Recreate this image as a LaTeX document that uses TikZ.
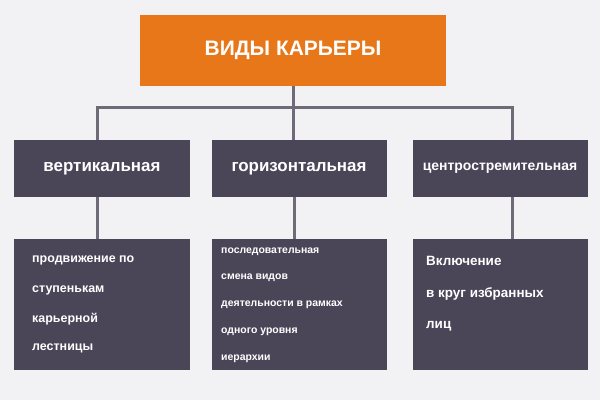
\documentclass[tikz,border=0pt]{standalone}
\usepackage{fontspec}
\setmainfont{Liberation Sans}
\definecolor{bg}{HTML}{F2F2F4}
\definecolor{dk}{HTML}{4A4658}
\definecolor{org}{HTML}{E8771A}
\definecolor{ln}{HTML}{6E6A78}
\begin{document}
\begin{tikzpicture}[x=1bp,y=-1bp,
  box/.style={fill=dk,draw=none,inner sep=0},
  conn/.style={draw=ln,line width=3bp},
  lbl/.style={text=white,font=\bfseries,anchor=west,inner sep=0}]
\fill[bg] (0,0) rectangle (600,400);
\useasboundingbox (0,0) rectangle (600,400);
\node[box,fill=org,minimum width=306bp,minimum height=71bp] (t) at (293,50.5) {};
\node[text=white,font=\bfseries\fontsize{21}{24}\selectfont] at (t) {ВИДЫ КАРЬЕРЫ};
% second row
\node[box,minimum width=175bp,minimum height=57bp] (a) at (102,168.5) {};
\node[box,minimum width=175bp,minimum height=57bp] (b) at (299,168.5) {};
\node[box,minimum width=175bp,minimum height=57bp] (c) at (500,168.5) {};
\node[text=white,font=\bfseries\fontsize{17}{20}\selectfont] at (a) {вертикальная};
\node[text=white,font=\bfseries\fontsize{17}{20}\selectfont] at (b) {горизонтальная};
\node[text=white,font=\bfseries\fontsize{14}{17}\selectfont] at (c) {центростремительная};
% third row
\node[box,minimum width=175bp,minimum height=131bp] (d) at (102,304.5) {};
\node[box,minimum width=175bp,minimum height=131bp] (e) at (299,304.5) {};
\node[box,minimum width=175bp,minimum height=131bp] (f) at (500,304.5) {};
\coordinate (h) at (293,107);
\draw[conn] (t.south) -- (h);
\draw[conn] (a.north -| 97,0) |- (h);
\draw[conn] (c.north -| 512,0) |- (h);
\draw[conn] (h) -- (b.north -| 293,0);
\draw[conn] (a.south -| 97,0) -- (d.north -| 97,0);
\draw[conn] (b.south -| 294,0) -- (e.north -| 294,0);
\draw[conn] (c.south -| 512,0) -- (f.north -| 512,0);
\begin{scope}[every node/.style={lbl,font=\bfseries\fontsize{12.5}{14}\selectfont}]
\node (d1) at (32,260) {продвижение по};
\node (d2) at (32,290) {ступенькам};
\node (d3) at (32,319) {карьерной};
\node (d4) at (32,348) {лестницы};
\end{scope}
\begin{scope}[every node/.style={lbl,font=\bfseries\fontsize{10.5}{12}\selectfont}]
\node (e1) at (221,252) {последовательная};
\node (e2) at (221,278) {смена видов};
\node (e3) at (221,305) {деятельности в рамках};
\node (e4) at (221,332) {одного уровня};
\node (e5) at (221,359) {иерархии};
\end{scope}
\begin{scope}[every node/.style={lbl,font=\bfseries\fontsize{13.5}{15}\selectfont}]
\node (f1) at (426,261) {Включение};
\node (f2) at (426,294) {в круг избранных};
\node (f3) at (426,326) {лиц};
\end{scope}
\end{tikzpicture}
\end{document}
